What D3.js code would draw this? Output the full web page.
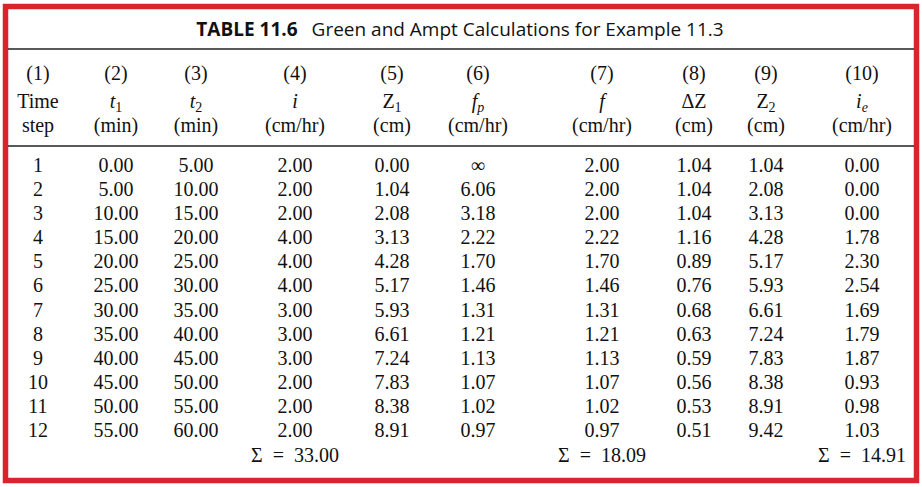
<!DOCTYPE html>
<html><head><meta charset="utf-8">
<script src="https://cdn.jsdelivr.net/npm/d3@7"></script>
<style>body{margin:0;background:#fff}</style>
</head><body>
<script>
// column headers
const colNums = ["(1)","(2)","(3)","(4)","(5)","(6)","(7)","(8)","(9)","(10)"];
const colNames = [["Time",""],["t","1"],["t","2"],["i",""],["Z","1"],["f","p"],["f",""],["ΔZ",""],["Z","2"],["i","e"]];
const colItalic = [false,true,true,true,false,true,true,false,false,true];
const colUnits = ["step","(min)","(min)","(cm/hr)","(cm)","(cm/hr)","(cm/hr)","(cm)","(cm)","(cm/hr)"];
const colCenters = [38,116,196,295,392,478,602,694,766,862];

// rows
const step = [1,2,3,4,5,6,7,8,9,10,11,12];
const t1 = ["0.00","5.00","10.00","15.00","20.00","25.00","30.00","35.00","40.00","45.00","50.00","55.00"];
const t2 = ["5.00","10.00","15.00","20.00","25.00","30.00","35.00","40.00","45.00","50.00","55.00","60.00"];
const iRate = ["2.00","2.00","2.00","4.00","4.00","4.00","3.00","3.00","3.00","2.00","2.00","2.00"];
const Z1 = ["0.00","1.04","2.08","3.13","4.28","5.17","5.93","6.61","7.24","7.83","8.38","8.91"];
const fp = ["∞","6.06","3.18","2.22","1.70","1.46","1.31","1.21","1.13","1.07","1.02","0.97"];
const f = ["2.00","2.00","2.00","2.22","1.70","1.46","1.31","1.21","1.13","1.07","1.02","0.97"];
const dZ = ["1.04","1.04","1.04","1.16","0.89","0.76","0.68","0.63","0.59","0.56","0.53","0.51"];
const Z2 = ["1.04","2.08","3.13","4.28","5.17","5.93","6.61","7.24","7.83","8.38","8.91","9.42"];
const ie = ["0.00","0.00","0.00","1.78","2.30","2.54","1.69","1.79","1.87","0.93","0.98","1.03"];
const columns = [step,t1,t2,iRate,Z1,fp,f,dZ,Z2,ie];
const sums = [{col:3,text:"Σ  =  33.00"},{col:6,text:"Σ  =  18.09"},{col:9,text:"Σ  =  14.91"}];

const W = 922, H = 487;
const svg = d3.select("body").append("svg").attr("width",W).attr("height",H)
  .style("font-family","'Liberation Serif','Times New Roman',serif").style("font-size","20px");

const x = d3.scaleOrdinal().domain(d3.range(10)).range(colCenters);
const y = d3.scalePoint().domain(step).range([172,437]);

// border and rules
svg.append("rect").attr("x",5.5).attr("y",6.5).attr("width",911).attr("height",474)
  .attr("fill","none").attr("stroke","#d9242b").attr("stroke-width",5.5);
svg.append("line").attr("x1",8).attr("x2",914).attr("y1",49).attr("y2",49).attr("stroke","#222").attr("stroke-width",1.3);
svg.append("line").attr("x1",8).attr("x2",914).attr("y1",146).attr("y2",146).attr("stroke","#222").attr("stroke-width",1.3);

// title
const title = svg.append("text").attr("x",460).attr("y",36).attr("text-anchor","middle")
  .style("font-family","'Open Sans',sans-serif").style("font-size","19px").attr("fill","#111");
title.append("tspan").attr("font-weight","bold").text("TABLE 11.6");
title.append("tspan").attr("dx",14).text("Green and Ampt Calculations for Example 11.3");

// header
const hdr = svg.append("g").attr("fill","#111");
hdr.selectAll(".num").data(colNums).join("text").attr("x",(d,i)=>x(i)).attr("y",80)
  .attr("text-anchor","middle").text(d=>d);
hdr.selectAll(".nm").data(colNames).join("text").attr("x",(d,i)=>x(i)).attr("y",108)
  .attr("text-anchor","middle")
  .each(function(d,i){
    const t = d3.select(this);
    t.append("tspan").attr("font-style",colItalic[i]?"italic":null).text(d[0]);
    if (d[1]) t.append("tspan").attr("dy",4).style("font-size","14px")
      .attr("font-style",(i===5||i===9)?"italic":null).text(d[1]);
  });
hdr.selectAll(".un").data(colUnits).join("text").attr("x",(d,i)=>x(i)).attr("y",132)
  .attr("text-anchor","middle").text(d=>d);

// body
const body = svg.append("g").attr("fill","#111");
columns.forEach((vals,c)=>{
  body.selectAll(".c"+c).data(vals).join("text")
    .attr("x",x(c)).attr("y",(d,r)=>y(step[r])).attr("text-anchor","middle").text(d=>d);
});
body.selectAll(".sum").data(sums).join("text")
  .attr("x",d=>x(d.col)).attr("y",462).attr("text-anchor","middle")
  .style("white-space","pre").attr("xml:space","preserve").text(d=>d.text);
</script>
</body></html>
